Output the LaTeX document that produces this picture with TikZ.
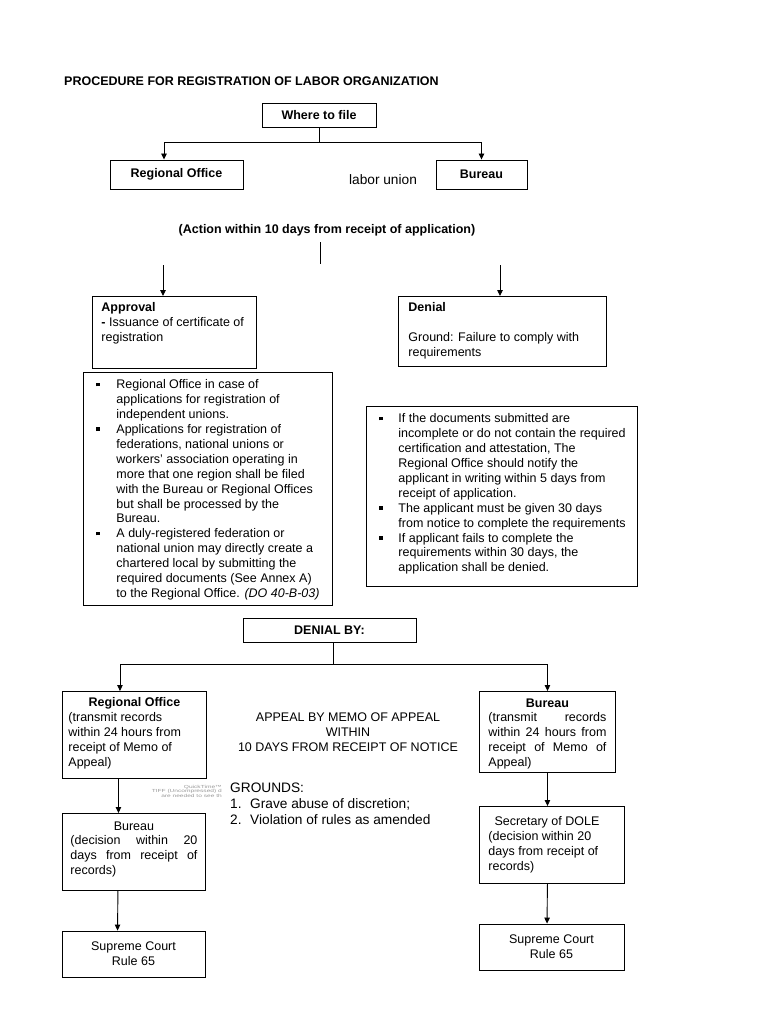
\documentclass[tikz,border=0pt]{standalone}
\usepackage{fontspec}
\setmainfont{Liberation Sans}
\usetikzlibrary{arrows.meta}
\newcommand\body{\fontsize{12.5pt}{14.9pt}\selectfont}
\newcommand\sq{\rule[2.4pt]{3.8pt}{3.8pt}}
\newcommand\tbox[3]{\parbox[t][#2][t]{#1}{\raggedright #3}}
\newcommand\just[1]{\makebox[\linewidth][s]{#1}}
\begin{document}
\begin{tikzpicture}[x=1pt,y=-1pt,
		box/.style={draw, line width=0.9pt, anchor=north west, inner xsep=10pt, inner ysep=6pt, font=\body},
		tag/.style={draw, line width=0.9pt, inner sep=0pt, font=\body\bfseries, align=center},
		arr/.style={line width=0.9pt, -{Triangle[length=6pt,width=5.5pt]}}]
		\fill[white] (0,0) rectangle (768,1024);
		\useasboundingbox (0,0) rectangle (768,1024);
		\node[anchor=west, font=\body\bfseries, inner sep=0pt] (title) at (64,81) {PROCEDURE FOR REGISTRATION OF LABOR ORGANIZATION};
		\node[tag, minimum width=114pt, minimum height=24pt] (where) at (319,115) {Where to file};
		\node[tag, minimum width=133pt, minimum height=29pt] (ro) at (176.5,174.5) {Regional Office};
		\node[tag, minimum width=91pt, minimum height=29pt] (bu) at (481.5,174.5) {Bureau};
		\node[font=\fontsize{13.7pt}{16pt}\selectfont, inner sep=0pt] (lu) at (383,180) {labor union};
		\node[font=\body\bfseries, inner sep=0pt] (act) at (327,230) {(Action within 10 days from receipt of application)};
		\coordinate (actfoot) at (320,242);
		\coordinate (apfoot) at (163,265);
		\coordinate (defoot) at (500,265);
		\node[box, inner xsep=9pt] (appr) at (92,296) {\tbox{146pt}{60pt}{\textbf{Approval}\\\textbf{-} Issuance of certificate of\\registration}};
		\node[box] (den) at (398,296) {\tbox{188pt}{58pt}{\textbf{Denial}\\[14.9pt]Ground: Failure to comply with\\requirements}};
		\node[box] (lb) at (83,372) {\tbox{229pt}{221pt}{\begin{tabular}{@{}p{23pt}@{}l@{}}
			\hspace{3pt}\sq & Regional Office in case of\\
			& applications for registration of\\
			& independent unions.\\
			\hspace{3pt}\sq & Applications for registration of\\
			& federations, national unions or\\
			& workers' association operating in\\
			& more that one region shall be filed\\
			& with the Bureau or Regional Offices\\
			& but shall be processed by the\\
			& Bureau.\\
			\hspace{3pt}\sq & A duly-registered federation or\\
			& national union may directly create a\\
			& chartered local by submitting the\\
			& required documents (See Annex A)\\
			& to the Regional Office. \textit{(DO 40-B-03)}
			\end{tabular}}};
		\node[box] (rb) at (366,406) {\tbox{251pt}{168pt}{\begin{tabular}{@{}p{22pt}@{}l@{}}
			\hspace{3pt}\sq & If the documents submitted are\\
			& incomplete or do not contain the required\\
			& certification and attestation, The\\
			& Regional Office should notify the\\
			& applicant in writing within 5 days from\\
			& receipt of application.\\
			\hspace{3pt}\sq & The applicant must be given 30 days\\
			& from notice to complete the requirements\\
			\hspace{3pt}\sq & If applicant fails to complete the\\
			& requirements within 30 days, the\\
			& application shall be denied.
			\end{tabular}}};
		\node[tag, minimum width=173pt, minimum height=24pt] (dby) at (329.5,630) {DENIAL BY:};
		\node[box, inner xsep=6pt] (ro2) at (62,691) {\tbox{132pt}{75pt}{\makebox[\linewidth]{\bfseries Regional Office}\\(transmit records\\within 24 hours from\\receipt of Memo of\\Appeal)}};
		\node[box, inner xsep=8pt, inner ysep=8pt] (bu3) at (62,813) {\tbox{127pt}{61pt}{\makebox[\linewidth]{Bureau}\\\just{(decision within 20}\\\just{days from receipt of}\\records)}};
		\node[tag, font=\body, minimum width=143pt, minimum height=46pt] (sc1) at (133.5,954) {Supreme Court\\Rule 65};
		\node[box, inner xsep=9pt, inner ysep=7pt] (bu2) at (479,691) {\tbox{118pt}{67pt}{\makebox[\linewidth]{\bfseries Bureau}\\\just{(transmit records}\\\just{within 24 hours from}\\\just{receipt of Memo of}\\Appeal)}};
		\node[box, inner xsep=9pt, inner ysep=10pt] (sec) at (479,806) {\tbox{127pt}{57pt}{\makebox[117pt]{Secretary of DOLE}\\(decision within 20\\days from receipt of\\records)}};
		\node[tag, font=\body, minimum width=145pt, minimum height=46pt] (sc2) at (551.5,947) {Supreme Court\\Rule 65};
		\node[font=\body, align=center, inner sep=0pt] (appeal) at (348,732) {APPEAL BY MEMO OF APPEAL\\WITHIN\\10 DAYS FROM RECEIPT OF NOTICE};
		\node[font=\fontsize{13.7pt}{16pt}\selectfont, align=left, inner sep=0pt, anchor=north west] (gr) at (230,783) {GROUNDS:\\\makebox[20pt][l]{1.}Grave abuse of discretion;\\\makebox[20pt][l]{2.}Violation of rules as amended};
		\node[font=\fontsize{4.4pt}{4.5pt}\selectfont, text=black!40, inner sep=0pt, anchor=north east] (qt) at (222,785) {\scalebox{1.5}[1]{\begin{tabular}{@{}r@{}}QuickTime™\\TIFF (Uncompressed) d\\are needed to see th\end{tabular}}};
		\draw[arr] (where.south) -- ++(0,15) -| ([xshift=-12.5pt]ro.north);
		\draw[arr] (where.south) -- ++(0,15) -| (bu.north);
		\draw[line width=0.9pt] (actfoot) -- ++(0,22);
		\draw[arr] (apfoot) -- (apfoot |- appr.north);
		\draw[arr] (defoot) -- (defoot |- den.north);
		\draw[arr] ([xshift=3.5pt]dby.south) -- ++(0,22) -| ([xshift=-14.5pt]ro2.north);
		\draw[arr] ([xshift=3.5pt]dby.south) -- ++(0,22) -| (bu2.north);
		\draw[arr] ([xshift=-16pt]ro2.south) -- ([xshift=-16pt]ro2.south |- bu3.north);
		\draw[arr] ([xshift=-16pt]bu3.south) -- ([xshift=-16pt]sc1.north);
		\draw[arr] (bu2.south) -- (bu2.south |- sec.north);
		\draw[arr] ([xshift=-4.5pt]sec.south) -- ([xshift=-4.5pt]sc2.north);
	\end{tikzpicture}
\end{document}
